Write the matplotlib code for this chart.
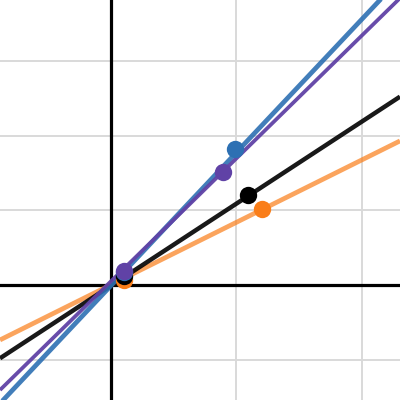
import matplotlib
matplotlib.use("Agg")
import matplotlib.pyplot as plt
import numpy as np

# line slopes / intercepts (grid units)
names = ["orange", "black", "blue", "purple"]
slopes = [0.836, 1.099, 1.784, 1.646]
intercepts = [0.003, -0.01, -0.009, 0.049]
colors = ["#fa7e19", "#000000", "#2d70b3", "#6042a6"]
line_alpha = [0.7, 0.9, 0.9, 0.95]
line_widths = [3.4, 3.2, 3.4, 2.7]

# points
pt_x_near = [0.10, 0.10, 0.10, 0.10]
pt_y_near = [0.07, 0.12, 0.18, 0.19]
pt_x_far = [1.20, 1.094, 0.988, 0.894]
pt_y_far = [1.017, 1.205, 1.82, 1.517]

xlim = (-0.884, 2.303)
ylim = (-1.54, 3.815)

fig = plt.figure(figsize=(4, 4), dpi=100)
ax = fig.add_axes([0, 0, 1, 1])
ax.set_xlim(*xlim)
ax.set_ylim(*ylim)
ax.axis("off")

for gx in [1, 2]:
    ax.axvline(gx, color="#d9d9d9", lw=1.4, zorder=0)
for gy in [-1, 1, 2, 3]:
    ax.axhline(gy, color="#d9d9d9", lw=1.4, zorder=0)
ax.axvline(0, color="black", lw=2.3, zorder=1)
ax.axhline(0, color="black", lw=2.3, zorder=1)

xs = np.array(xlim)
for i in range(len(names)):
    ax.plot(xs, slopes[i] * xs + intercepts[i], color=colors[i],
            alpha=line_alpha[i], lw=line_widths[i], zorder=2 + i,
            solid_capstyle="butt")
for i in range(len(names)):
    ax.plot([pt_x_near[i], pt_x_far[i]], [pt_y_near[i], pt_y_far[i]], "o",
            color=colors[i], ms=12.5, mec="none", zorder=10 + i)

fig.savefig("out.png", dpi=100)
